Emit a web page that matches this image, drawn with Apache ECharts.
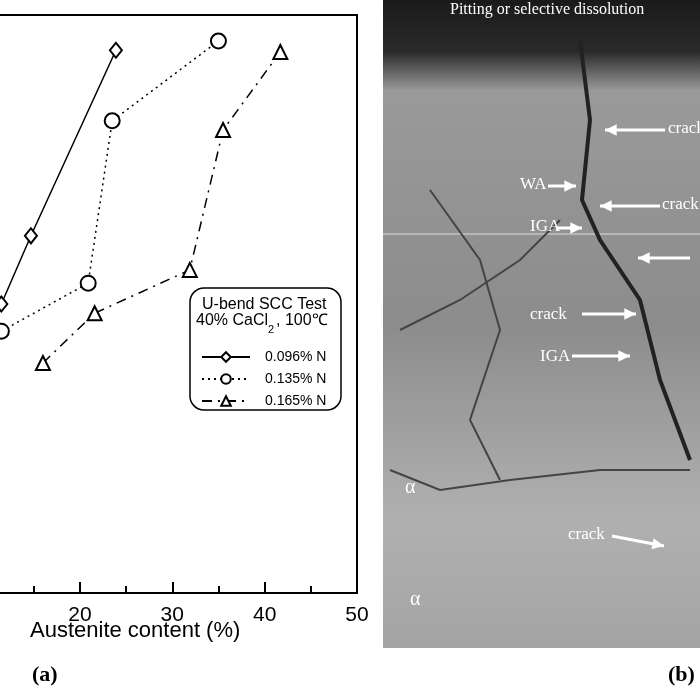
<!DOCTYPE html>
<html>
<head>
<meta charset="utf-8">
<script src="https://cdn.jsdelivr.net/npm/echarts@6/dist/echarts.min.js"></script>
<style>html,body{margin:0;background:#fff}#chart{width:700px;height:700px}</style>
</head>
<body>
<div id="chart"></div>
<script>
  /** Data */
  var seriesNames = ['0.096% N', '0.135% N', '0.165% N'];
  var n096 = [[11.5, 50.0], [14.7, 61.8], [23.9, 93.9]];
  var n135 = [[11.5, 45.3], [20.9, 53.6], [23.5, 81.7], [35.0, 95.5]];
  var n165 = [[16.0, 39.8], [21.6, 48.4], [31.9, 55.9], [35.5, 80.1], [41.7, 93.6]];
  var xTicks = [10, 20, 30, 40, 50];

  var font = 'Liberation Sans';
  var serif = 'Liberation Serif';

  function arrow(x1, y1, x2, y2) {
    var a = Math.atan2(y2 - y1, x2 - x1), h = 13;
    return [{
      type: 'line', shape: {x1: x1, y1: y1, x2: x2, y2: y2},
      style: {stroke: '#fff', lineWidth: 3}
    }, {
      type: 'polygon',
      shape: {points: [[x2, y2],
        [x2 - h * Math.cos(a - 0.45), y2 - h * Math.sin(a - 0.45)],
        [x2 - h * Math.cos(a + 0.45), y2 - h * Math.sin(a + 0.45)]]},
      style: {fill: '#fff'}
    }];
  }
  function label(t, x, y, size) {
    return {type: 'text', left: x, top: y, style: {text: t, fill: '#fff', font: (size || 17) + 'px ' + serif}};
  }

  var micro = [
    {type: 'rect', shape: {x: 383, y: 0, width: 317, height: 648},
      style: {fill: new echarts.graphic.LinearGradient(0, 0, 0, 1, [
        {offset: 0, color: '#1a1a1a'}, {offset: 0.08, color: '#2a2a2a'},
        {offset: 0.14, color: '#9a9a9a'}, {offset: 0.5, color: '#8c8c8c'},
        {offset: 0.8, color: '#b0b0b0'}, {offset: 1, color: '#a4a4a4'}])}},
    {type: 'line', shape: {x1: 383, y1: 234, x2: 700, y2: 234}, style: {stroke: '#ddd', lineWidth: 1}},
    {type: 'polyline', shape: {points: [[580, 40], [590, 120], [582, 200], [600, 240], [640, 300], [660, 380], [690, 460]]},
      style: {stroke: '#222', lineWidth: 4}},
    {type: 'polyline', shape: {points: [[400, 330], [460, 300], [520, 260], [560, 220]]}, style: {stroke: '#444', lineWidth: 2}},
    {type: 'polyline', shape: {points: [[390, 470], [440, 490], [510, 480], [600, 470], [690, 470]]}, style: {stroke: '#444', lineWidth: 2}},
    {type: 'polyline', shape: {points: [[430, 190], [480, 260], [500, 330], [470, 420], [500, 480]]}, style: {stroke: '#444', lineWidth: 2}},
    label('Pitting or selective dissolution', 450, 2, 16),
    label('crack', 668, 120), label('WA', 520, 176), label('crack', 662, 196),
    label('IGA', 530, 218), label('crack', 530, 306), label('IGA', 540, 348),
    label('α', 405, 478, 20), label('α', 410, 590, 20), label('crack', 568, 526)
  ].concat(arrow(665, 130, 605, 130), arrow(548, 186, 576, 186), arrow(660, 206, 600, 206),
    arrow(556, 228, 582, 228), arrow(690, 258, 638, 258), arrow(582, 314, 636, 314),
    arrow(572, 356, 630, 356), arrow(612, 536, 664, 546));

  var chart = echarts.init(document.getElementById('chart'));
  chart.setOption({
    animation: false,
    backgroundColor: '#fff',
    grid: {left: -12.5, right: 343, top: 15, bottom: 107, outerBoundsMode: 'none', containLabel: false},
    xAxis: {
      type: 'value', min: 10, max: 50, interval: 10,
      axisLine: {show: true, lineStyle: {color: '#000', width: 2}},
      axisTick: {inside: true, length: 11, lineStyle: {color: '#000', width: 2}},
      minorTick: {show: true, splitNumber: 2, length: 7, lineStyle: {color: '#000', width: 2}},
      splitLine: {show: false},
      axisLabel: {color: '#000', fontSize: 21, fontFamily: font, margin: 12,
        formatter: function(v) { return xTicks.indexOf(v) >= 0 ? v : ''; }}
    },
    yAxis: {
      type: 'value', min: 0, max: 100,
      axisLine: {show: true, lineStyle: {color: '#000', width: 2}},
      axisTick: {show: false}, axisLabel: {show: false}, splitLine: {show: false}
    },
    legend: {
      orient: 'vertical', left: 196, top: 345, itemGap: 8, itemWidth: 48, itemHeight: 12,
      textStyle: {fontFamily: font, fontSize: 14, color: '#000', padding: [0, 0, 0, 10]},
      data: seriesNames
    },
    graphic: [
      {type: 'rect', shape: {x: -2, y: 15, width: 359, height: 578}, style: {fill: 'none', stroke: '#000', lineWidth: 2}, silent: true},
      {type: 'rect', shape: {x: 190, y: 288, width: 151, height: 122, r: 14}, style: {fill: '#fff', stroke: '#000', lineWidth: 1.5}, z: 3},
      {type: 'text', left: 202, top: 297, z: 4, style: {text: 'U-bend SCC Test', font: '16px ' + font, fill: '#000'}},
      {type: 'text', left: 196, top: 313, z: 4, style: {text: '40% CaCl', font: '16px ' + font, fill: '#000'}},
      {type: 'text', left: 268, top: 324, z: 4, style: {text: '2', font: '11px ' + font, fill: '#000'}},
      {type: 'text', left: 276, top: 313, z: 4, style: {text: ', 100℃', font: '16px ' + font, fill: '#000'}},
      {type: 'text', left: 30, top: 620, style: {text: 'Austenite content (%)', font: '22px ' + font, fill: '#000'}},
      {type: 'text', left: 32, top: 664, style: {text: '(a)', font: 'bold 22px ' + serif, fill: '#000'}},
      {type: 'text', left: 668, top: 664, style: {text: '(b)', font: 'bold 22px ' + serif, fill: '#000'}}
    ].concat(micro),
    series: [{
      name: seriesNames[0], type: 'line', data: n096, z: 5,
      symbol: 'emptyDiamond', symbolSize: [12, 15],
      lineStyle: {color: '#000', width: 1.5, type: 'solid'}, itemStyle: {color: '#000', borderWidth: 1.2}
    }, {
      name: seriesNames[1], type: 'line', data: n135, z: 5,
      symbol: 'emptyCircle', symbolSize: 15,
      lineStyle: {color: '#000', width: 1.5, type: [2, 4]}, itemStyle: {color: '#000', borderWidth: 1.2}
    }, {
      name: seriesNames[2], type: 'line', data: n165, z: 5,
      symbol: 'emptyTriangle', symbolSize: 14,
      lineStyle: {color: '#000', width: 1.5, type: [10, 6, 2, 6]}, itemStyle: {color: '#000', borderWidth: 1.2}
    }]
  });
</script>
</body>
</html>
